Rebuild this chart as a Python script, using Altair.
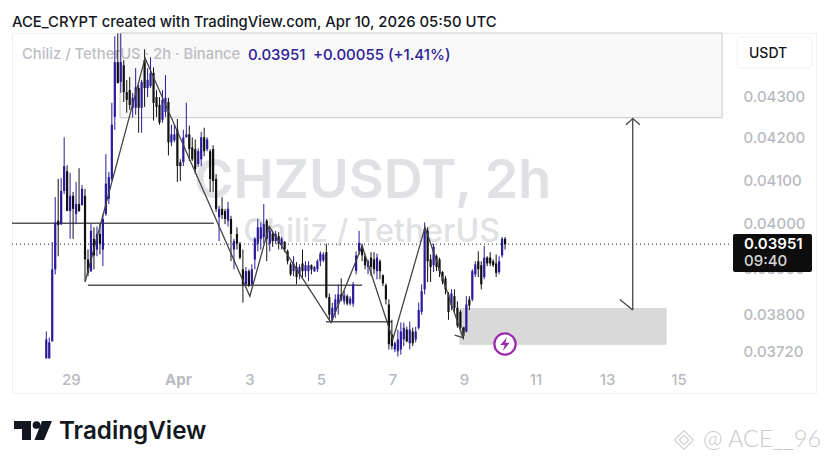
import altair as alt
import pandas as pd

# 2h candles, prices in 1e-5 USDT
opens = [3703,3703,3739,3895,4004,3996,4072,4118,4026,4061,4019,4042,4040,4061,3917,3891,3963,3939,3974,3939,4019,4054,4100,4247,4381,4332,4373,4307,4312,4269,4269,4317,4269,4386,4317,4322,4354,4295,4276,4240,4259,4283,4186,4191,4216,4139,4139,4198,4205,4174,4170,4135,4146,4198,4170,4165,4170,4100,4012,4031,4026,4004,4008,3939,3974,3952,3895,3862,3891,3862,3917,3952,3963,3967,4004,3952,3974,3958,3969,3949,3956,3935,3906,3891,3900,3884,3908,3891,3891,3904,3891,3895,3913,3915,3933,3834,3785,3802,3818,3840,3825,3836,3820,3820,3891,3935,3947,3924,3900,3921,3917,3891,3913,3882,3860,3818,3754,3722,3718,3722,3743,3764,3735,3760,3743,3768,3802,3851,3981,3917,3904,3924,3917,3889,3875,3840,3816,3836,3811,3802,3768,3760,3829,3829,3884,3913,3904,3878,3921,3921,3913,3908,3889,3926,3963]
closes = [3743,3737,3895,4000,3994,4072,4130,4026,4061,4031,4042,4026,4077,3917,3887,3981,3926,3974,3952,4008,4089,4104,4228,4381,4329,4381,4307,4288,4276,4293,4319,4269,4332,4317,4337,4354,4281,4271,4233,4288,4293,4186,4205,4205,4130,4130,4198,4205,4170,4146,4123,4165,4198,4165,4193,4100,4095,4031,4031,4017,4008,4031,3974,3958,3952,3921,3862,3891,3860,3895,3963,3989,3989,3996,3963,3981,3958,3974,3952,3963,3939,3913,3884,3908,3878,3900,3891,3904,3904,3895,3900,3913,3930,3928,3834,3796,3811,3829,3840,3829,3838,3820,3831,3862,3926,3954,3926,3904,3913,3900,3895,3921,3891,3864,3829,3733,3729,3735,3743,3760,3768,3739,3764,3735,3760,3806,3847,3985,3913,3900,3945,3900,3891,3869,3851,3802,3842,3811,3773,3768,3750,3818,3816,3891,3906,3895,3862,3921,3908,3908,3904,3887,3913,3963,3951]
highs = [3760,3747,3956,4058,4100,4102,4198,4132,4114,4070,4093,4125,4086,4077,3939,3996,3989,3991,3996,4019,4158,4116,4281,4446,4453,4453,4386,4337,4344,4305,4366,4324,4337,4413,4366,4393,4368,4312,4295,4312,4349,4293,4228,4228,4242,4146,4216,4281,4226,4198,4193,4172,4211,4221,4198,4170,4179,4111,4038,4058,4031,4047,4015,3963,3989,3956,3939,3900,3895,3906,3967,4008,4000,4042,4008,3991,3981,3981,3978,3967,3958,3939,3911,3924,3911,3906,3939,3913,3913,3906,3902,3917,3935,3933,3952,3842,3822,3840,3862,3875,3847,3840,3836,3867,3935,3981,3952,3928,3917,3933,3933,3930,3917,3884,3864,3829,3785,3739,3764,3779,3779,3770,3781,3768,3770,3822,3862,4000,3989,3928,3952,3928,3921,3891,3880,3845,3851,3851,3825,3806,3770,3836,3836,3895,3913,3935,3913,3947,3924,3933,3917,3928,3924,3967,3967]
lows = [3703,3703,3739,3884,3924,3994,4065,4026,3963,3963,3996,4024,4038,3869,3880,3889,3895,3924,3928,3902,4015,4042,4095,4216,4329,4305,4283,4257,4264,4245,4252,4209,4209,4271,4295,4317,4238,4247,4228,4233,4247,4155,4177,4186,4093,4095,4130,4198,4142,4142,4111,4128,4130,4153,4165,4070,4070,4024,3958,4008,3996,3991,3913,3895,3939,3917,3822,3858,3856,3858,3895,3935,3939,3952,3913,3935,3945,3952,3939,3939,3933,3906,3880,3880,3862,3873,3878,3878,3869,3884,3889,3889,3902,3911,3831,3785,3781,3789,3796,3825,3818,3816,3816,3813,3884,3928,3913,3895,3884,3880,3884,3873,3873,3858,3818,3722,3722,3716,3707,3711,3729,3737,3722,3729,3737,3764,3796,3840,3867,3867,3889,3891,3878,3862,3840,3785,3806,3800,3768,3764,3743,3758,3806,3825,3878,3878,3851,3873,3902,3902,3900,3878,3884,3921,3939]
first_bar_day = -3.684   # days relative to 1 Apr
bar_days = 1 / 12

# axis
tick_days = [-3, 0, 2, 4, 6, 8, 10, 12, 14]
tick_names = ["29", "Apr", "3", "5", "7", "9", "11", "13", "15"]
price_ticks = [0.043, 0.042, 0.041, 0.040, 0.039, 0.038, 0.0372]
x_domain = [-4.643, 17.846]
y_domain = [0.03631, 0.04454]
last_price = 0.03951

# zigzag and arrow drawings: (day, price)
zig_days = [-2.60, -0.92, 2.01, 2.55, 4.28, 5.15, 6.01, 6.91, 7.97]
zig_prices = [0.03867, 0.04391, 0.03836, 0.03991, 0.03779, 0.03947, 0.03743, 0.03989, 0.03747]
end_tick_days = [7.74, 7.97, 8.03]
end_tick_prices = [0.03752, 0.03747, 0.03770]
arrow_day = 12.72
arrow_prices = [0.04243, 0.03806]
arrow_top_days = [12.53, 12.72, 12.92]
arrow_top_prices = [0.04228, 0.04243, 0.04228]
arrow_low_days = [12.36, 12.72]
arrow_low_prices = [0.03829, 0.03806]
level_starts = [-4.643, -2.52, 4.14]
level_ends = [1.0, 5.15, 5.99]
level_prices = [0.03998, 0.03860, 0.03781]

# zones
zone_starts = [-1.62, 7.89]
zone_ends = [15.22, 13.65]
zone_tops = [0.04454, 0.03809]
zone_bottoms = [0.04245, 0.03733]

n = len(opens)
candles = pd.DataFrame({
    "t": [first_bar_day + i * bar_days for i in range(n)],
    "o": [v / 1e5 for v in opens],
    "c": [v / 1e5 for v in closes],
    "h": [v / 1e5 for v in highs],
    "l": [v / 1e5 for v in lows],
})
candles["dir"] = ["up" if a >= b else "down" for a, b in zip(closes, opens)]

xs = alt.Scale(domain=x_domain, nice=False, zero=False, padding=0)
ys = alt.Scale(type="log", domain=y_domain, nice=False, padding=0)
GREY = "#b7bac0"
label_expr = "{" + ",".join(f"'{d}':'{s}'" for d, s in zip(tick_days, tick_names)) + "}[datum.value]"
xaxis = alt.Axis(values=tick_days, labelExpr=label_expr, domain=False, ticks=False, grid=False,
                 title=None, offset=-21, labelPadding=0, labelFontSize=15, labelColor=GREY,
                 labelFont="Inter", labelFontWeight=alt.expr("datum.value === 0 ? 700 : 500"),
                 labelBaseline="top", labelOverlap=False, labelFlush=False)
yaxis = alt.Axis(values=price_ticks, format=".5f", orient="right", domain=False, ticks=False, grid=False,
                 title=None, offset=-73, labelPadding=0, labelFontSize=15, labelColor=GREY,
                 labelOffset=1.5,
                 labelFont="Inter", labelFontWeight=500, labelOverlap=False, labelFlush=False)
X = lambda f="t": alt.X(f"{f}:Q", scale=xs, axis=xaxis)
Y = lambda f="p": alt.Y(f"{f}:Q", scale=ys, axis=yaxis)

one = pd.DataFrame({"a": [0]})


def label(text, x, y, size, color, weight=400, align="left", font="Inter"):
    return alt.Chart(pd.DataFrame({"s": [text]})).mark_text(
        align=align, baseline="middle", fontSize=size, color=color, fontWeight=weight, font=font
    ).encode(x=alt.value(x), y=alt.value(y), text="s:N")


def box(x0, x1, y0, y1, fill, stroke=None, radius=0):
    kw = {"stroke": stroke} if stroke else {}
    return alt.Chart(one).mark_rect(fill=fill, cornerRadius=radius, **kw).encode(
        x=alt.value(x0), x2=alt.value(x1), y=alt.value(y0), y2=alt.value(y1))


def glyph(x, y, size, color, shape="circle", filled=True, sw=1):
    return alt.Chart(one).mark_point(shape=shape, filled=filled, size=size, opacity=1, color=color, strokeWidth=sw).encode(
        x=alt.value(x), y=alt.value(y))


zones = pd.DataFrame({"t": zone_starts, "t2": zone_ends, "p": zone_tops, "p2": zone_bottoms, "z": ["a", "b"]})
zone_layer = alt.Chart(zones).mark_rect(strokeWidth=1).encode(
    x=X(), x2="t2:Q", y=Y(), y2="p2:Q",
    fill=alt.Fill("z:N", scale=alt.Scale(domain=["a", "b"], range=["#f8f8f8", "#d9d9d9"]), legend=None),
    stroke=alt.Stroke("z:N", scale=alt.Scale(domain=["a", "b"], range=["#c8c8c8", "#d0d0d0"]), legend=None),
)

paths = []
for g, (ds, ps) in enumerate([(zig_days, zig_prices), (end_tick_days, end_tick_prices),
                              ([arrow_day, arrow_day], arrow_prices),
                              (arrow_top_days, arrow_top_prices), (arrow_low_days, arrow_low_prices)]):
    for k, (d, p) in enumerate(zip(ds, ps)):
        paths.append({"t": d, "p": p, "g": g, "k": k})
path_layer = alt.Chart(pd.DataFrame(paths)).mark_line(color="#444444", strokeWidth=1.3).encode(
    x=X(), y=Y(), detail="g:N", order="k:Q")

levels = pd.DataFrame({"t": level_starts, "t2": level_ends, "p": level_prices})
level_layer = alt.Chart(levels).mark_rule(color="#555555", strokeWidth=1.5).encode(x=X(), x2="t2:Q", y=Y())

last_line = alt.Chart(pd.DataFrame({"t": [x_domain[0]], "t2": [15.44], "p": [last_price]})).mark_rule(
    color="#131722", strokeWidth=1, strokeDash=[1, 3]).encode(x=X(), x2="t2:Q", y=Y())

dir_scale = alt.Scale(domain=["up", "down"], range=["#2a1a9c", "#111111"])
wicks = alt.Chart(candles).mark_rule(strokeWidth=1).encode(
    x=X(), y=Y("h"), y2="l:Q", color=alt.Color("dir:N", scale=dir_scale, legend=None))
bodies = alt.Chart(candles).mark_bar(size=2.2).encode(
    x=X(), y=Y("o"), y2="c:Q", color=alt.Color("dir:N", scale=dir_scale, legend=None))

BOLT = "M0.3 -1 L-0.7 0.15 L-0.05 0.15 L-0.3 1 L0.7 -0.2 L0.05 -0.2 Z"
T_SHAPE = "M-1 -0.5 L-0.105 -0.5 L-0.105 0.5 L-0.579 0.5 L-0.579 -0.079 L-1 -0.079 Z"
SLASH = "M0.474 -0.5 L1 -0.5 L0.579 0.5 L0.08 0.5 Z"

circle = alt.Chart(one).mark_point(filled=True, size=452, fill="#ffffff", stroke="#9c27b0", strokeWidth=2.2,
                                   opacity=1, shape="circle").encode(x=alt.value(493), y=alt.value(311))

chart = alt.layer(
    label("CHZUSDT, 2h", 365.5 - 5, 149, 54, "#e0e1e4", 600, "center"),
    label("Chiliz / TetherUS", 359.5, 199, 32, "#e0e1e4", 500, "center"),
    zone_layer,
    label("Chiliz / TetherUS · 2h · Binance", 10, 22, 14.8, "#bcbec4", 500),
    label("0.03951", 236, 22, 15, "#2e2096", 500),
    label("+0.00055 (+1.41%)", 301, 22, 15, "#2e2096", 500),
    level_layer, last_line, wicks, bodies, path_layer,
    circle,
    glyph(493, 311, 180, "#9c27b0", shape=BOLT),
    box(725, 800, 4, 35, "#ffffff", "#f0f0f0", 4),
    label("USDT", 737, 21, 14, "#131722", 500),
    box(721, 800, 201, 239, "#0d0d0d", None, 2),
    label("0.03951", 732, 211, 15, "#ffffff", 600),
    label("09:40", 732, 228, 15, "#d6d6d6", 500),
    # footer
    glyph(21, 397.5, 1444, "#131722", shape=T_SHAPE),
    glyph(21, 397.5, 1444, "#131722", shape=SLASH),
    glyph(24.5, 392, 60, "#131722"),
    label("TradingView", 47, 398.5, 24.2, "#131722", 600),
    glyph(672, 407, 360, "#d0d0d0", shape="diamond", filled=False, sw=1.2),
    glyph(672, 407, 90, "#d0d0d0", shape="diamond", filled=False, sw=1.2),
    label("@ ACE__96", 691, 407, 23.5, "#c9c9c9", 300, font="Lato"),
).properties(
    width=804, height=360,
    padding={"left": 4, "top": 25, "right": 5, "bottom": 62},
    autosize=alt.AutoSizeParams(type="none"),
    background="#ffffff",
    title=alt.TitleParams("ACE_CRYPT created with TradingView.com, Apr 10, 2026 05:50 UTC", anchor="start",
                          frame="group", fontSize=14.85, fontWeight=500, font="Inter", color="#131722", offset=3),
).configure_view(stroke="#f0f0f0")

chart.save("out.html", embed_options={"renderer": "svg", "actions": False})
